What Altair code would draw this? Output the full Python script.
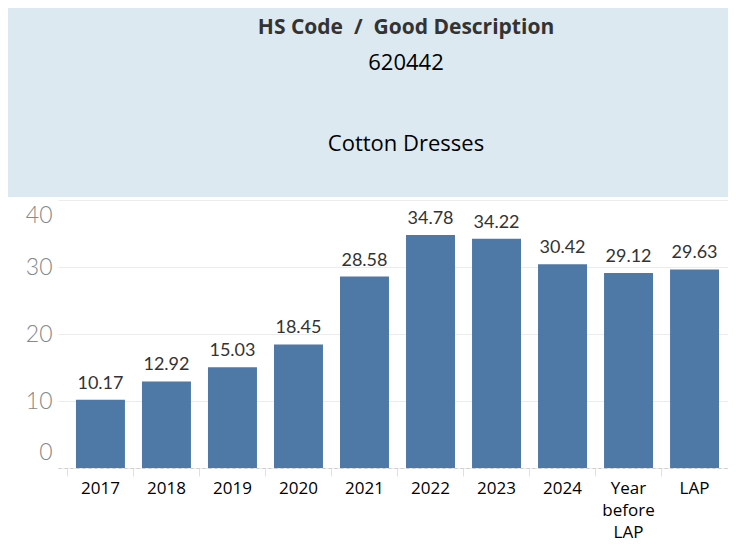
import altair as alt
import pandas as pd

categories = ["2017", "2018", "2019", "2020", "2021", "2022", "2023", "2024", "Year before LAP", "LAP"]
values = [10.17, 12.92, 15.03, 18.45, 28.58, 34.78, 34.22, 30.42, 29.12, 29.63]
y_ticks = [0, 10, 20, 30, 40]
header_title = "HS Code\u00a0\u00a0/\u00a0\u00a0Good Description"
header_code = "620442"
header_desc = "Cotton Dresses"

df = pd.DataFrame({"cat": categories, "value": values})
hdr = pd.DataFrame({"k": [0]})

W, H = 670, 268
FONT = "Open Sans"

x_enc = alt.X(
    "cat:N",
    sort=categories,
    title=None,
    scale=alt.Scale(paddingInner=0.258, paddingOuter=0.204, align=0.667),
    axis=alt.Axis(
        labelAngle=0,
        labelFont=FONT,
        labelFontSize=17,
        labelFontWeight=500,
        labelColor="#000000",
        labelPadding=4,
        labelLineHeight=22,
        labelExpr="datum.value == 'Year before LAP' ? ['Year', 'before', 'LAP'] : datum.value",
        domainColor="#cccccc",
        domainDash=[3, 3],
        tickColor="#e0e0e0",
        tickSize=8,
        bandPosition=-0.17,
        grid=False,
    ),
)
y_enc = alt.Y(
    "value:Q",
    title=None,
    scale=alt.Scale(domain=[0, 40], nice=False),
    axis=alt.Axis(
        values=y_ticks,
        domain=False,
        ticks=False,
        labelFont="Lato",
        labelFontWeight=300,
        labelFontSize=23,
        labelColor="#888888",
        labelPadding=6,
        labelFlush=True,
        labelFlushOffset=-4,
        gridColor="#ececec",
        gridWidth=1,
    ),
)

bars = alt.Chart(df).mark_bar(color="#4e79a7").encode(x=x_enc, y=y_enc)
labels = alt.Chart(df).mark_text(
    baseline="bottom", dy=-7, fontSize=18, font="Lato", color="#333333"
).encode(x=alt.X("cat:N", sort=categories), y="value:Q", text=alt.Text("value:Q", format=".2f"))

rect = alt.Chart(hdr).mark_rect(color="#dde9f0").encode(
    x=alt.value(-50), x2=alt.value(W), y=alt.value(-192), y2=alt.value(-3)
)
t1 = alt.Chart(hdr).mark_text(
    font=FONT, fontSize=21, fontWeight="bold", color="#333333", align="center", baseline="middle"
).encode(x=alt.value(348), y=alt.value(-172), text=alt.value(header_title))
t2 = alt.Chart(hdr).mark_text(
    font=FONT, fontSize=22, color="#000000", align="center", baseline="middle"
).encode(x=alt.value(348), y=alt.value(-137), text=alt.value(header_code))
t3 = alt.Chart(hdr).mark_text(
    font=FONT, fontSize=22, color="#000000", align="center", baseline="middle"
).encode(x=alt.value(348), y=alt.value(-56), text=alt.value(header_desc))

chart = alt.layer(rect, t1, t2, t3, bars, labels).properties(
    width=W, height=H, padding={"left": 0, "top": 0, "right": 0, "bottom": 10}
).configure_view(stroke=None)

chart.save("out.html", embed_options={"renderer": "svg", "actions": False})
